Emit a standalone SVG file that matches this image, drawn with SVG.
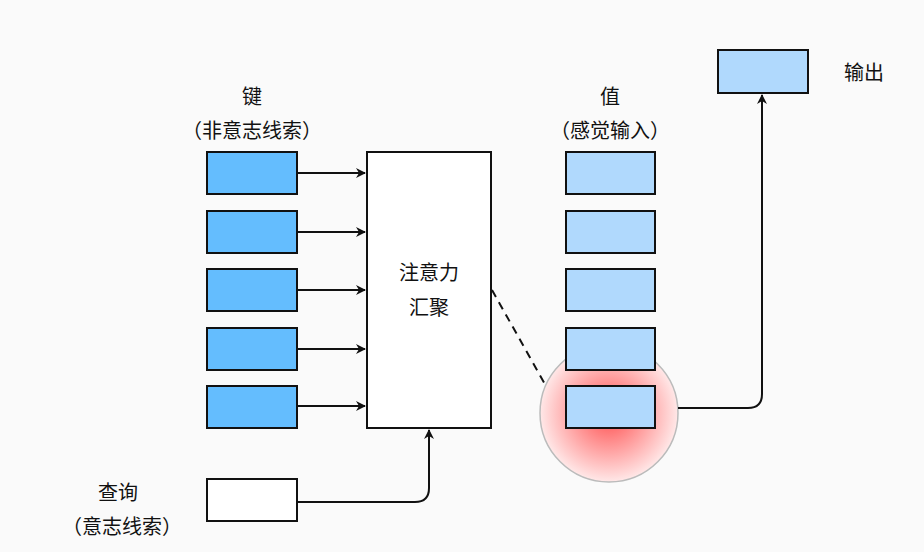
<svg xmlns="http://www.w3.org/2000/svg" width="924" height="552" viewBox="0 0 924 552">
<style>
.k{fill:#64bdfe;stroke:#111;stroke-width:2}
.v{fill:#b0d9fd;stroke:#111;stroke-width:2}
.w{fill:#fff;stroke:#111;stroke-width:2}
.c{fill:none;stroke:#111;stroke-width:2}
text{font-family:"Noto Sans CJK SC","Noto Sans",sans-serif;font-size:20px;fill:#111;text-anchor:middle}
</style>
<defs>
<marker id="a" viewBox="0 0 10 10" refX="9" refY="5" markerWidth="12" markerHeight="10" orient="auto" markerUnits="userSpaceOnUse">
<path d="M0,0 L10,5 L0,10 L3,5 z" fill="#111"/></marker>
<radialGradient id="g"><stop offset="0" stop-color="#ff4d4d"/><stop offset="1" stop-color="#ffe8e8"/></radialGradient>
</defs>
<rect width="924" height="552" fill="#fafafa"/>
<g id="glow"><circle cx="609" cy="413" r="69" fill="url(#g)" stroke="#bbb" stroke-width="1.5"/></g>
<g id="keys">
<text x="252" y="104">键</text><text x="252" y="138">（非意志线索）</text>
<rect class="k" x="207" y="152" width="90" height="42"/>
<rect class="k" x="207" y="211" width="90" height="42"/>
<rect class="k" x="207" y="269" width="90" height="42"/>
<rect class="k" x="207" y="328" width="90" height="42"/>
<rect class="k" x="207" y="386" width="90" height="42"/>
</g>
<g id="query"><rect class="w" x="207" y="479" width="90" height="42"/>
<text x="118" y="500">查询</text><text x="122" y="534">（意志线索）</text></g>
<g id="pool"><rect class="w" x="367" y="152" width="124" height="276"/>
<text x="429" y="280">注意力</text><text x="429" y="315">汇聚</text></g>
<g id="values">
<text x="610" y="104">值</text><text x="610" y="138">（感觉输入）</text>
<rect class="v" x="566" y="152" width="89" height="42"/>
<rect class="v" x="566" y="211" width="89" height="42"/>
<rect class="v" x="566" y="269" width="89" height="42"/>
<rect class="v" x="566" y="328" width="89" height="42"/>
<rect class="v" x="566" y="386" width="89" height="42"/>
</g>
<g id="output"><rect class="v" x="718" y="50" width="90" height="43"/><text x="864" y="80">输出</text></g>
<g id="connectors">
<path class="c" marker-end="url(#a)" d="M297,173H365"/>
<path class="c" marker-end="url(#a)" d="M297,232H365"/>
<path class="c" marker-end="url(#a)" d="M297,290H365"/>
<path class="c" marker-end="url(#a)" d="M297,349H365"/>
<path class="c" marker-end="url(#a)" d="M297,406H365"/>
<path class="c" marker-end="url(#a)" d="M297,502H415Q429,502 429,488V430"/>
<path class="c" stroke-dasharray="8,6" d="M492,290L546,386"/>
<path class="c" marker-end="url(#a)" d="M678,408H748Q762,408 762,394V95"/>
</g>
</svg>
